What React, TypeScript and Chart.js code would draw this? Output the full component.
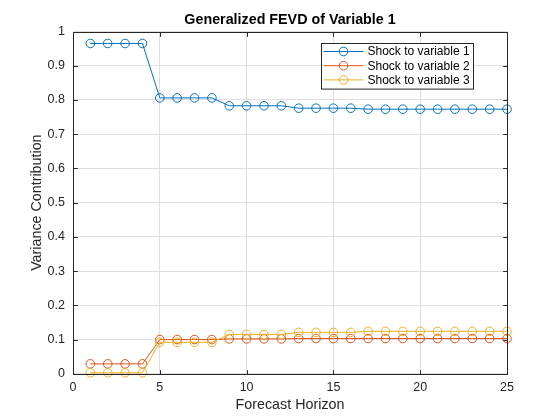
import React, { useEffect, useRef } from "react";
import { Chart, registerables } from "chart.js";

Chart.register(...registerables);

const horizons = [1, 2, 3, 4, 5, 6, 7, 8, 9, 10, 11, 12, 13, 14, 15, 16, 17, 18, 19, 20, 21, 22, 23, 24, 25];
const shockVar1 = [0.965, 0.965, 0.965, 0.965, 0.806, 0.806, 0.806, 0.806, 0.783, 0.783, 0.783, 0.783, 0.776, 0.776, 0.776, 0.776, 0.773, 0.773, 0.773, 0.773, 0.773, 0.773, 0.773, 0.773, 0.773];
const shockVar2 = [0.029, 0.029, 0.029, 0.029, 0.1, 0.1, 0.1, 0.1, 0.102, 0.102, 0.102, 0.102, 0.103, 0.103, 0.103, 0.103, 0.103, 0.103, 0.103, 0.103, 0.103, 0.103, 0.103, 0.103, 0.103];
const shockVar3 = [0.003, 0.003, 0.003, 0.003, 0.092, 0.092, 0.092, 0.092, 0.115, 0.115, 0.115, 0.115, 0.121, 0.121, 0.121, 0.121, 0.124, 0.124, 0.124, 0.124, 0.124, 0.124, 0.124, 0.124, 0.124];
const seriesLabels = ["Shock to variable 1", "Shock to variable 2", "Shock to variable 3"];
const seriesColors = ["#0072BD", "#D95319", "#EDB120"];
const xTicks = [0, 5, 10, 15, 20, 25];
const yTicks = [0, 0.1, 0.2, 0.3, 0.4, 0.5, 0.6, 0.7, 0.8, 0.9, 1];
const titleText = "Generalized FEVD of Variable 1";
const xLabelText = "Forecast Horizon";
const yLabelText = "Variance Contribution";

const FONT = 'Arial, "Liberation Sans", Helvetica, sans-serif';
const AXIS_COLOR = "#262626";

const matlabPlugin = {
  id: "matlabDecor",
  afterDatasetsDraw(chart: any) {
    const { ctx, chartArea: a, scales } = chart;
    ctx.save();
    const L = Math.round(a.left) + 0.5;
    const R = Math.round(a.right) + 0.5;
    const T = Math.round(a.top) + 0.5;
    const B = Math.round(a.bottom) + 0.5;
    const tl = 4.3;
    ctx.strokeStyle = AXIS_COLOR;
    ctx.lineWidth = 1;
    ctx.beginPath();
    ctx.rect(L, T, R - L, B - T);
    ctx.stroke();
    ctx.beginPath();
    xTicks.forEach((v) => {
      const px = Math.round(scales.x.getPixelForValue(v)) + 0.5;
      ctx.moveTo(px, B);
      ctx.lineTo(px, B - tl);
      ctx.moveTo(px, T);
      ctx.lineTo(px, T + tl);
    });
    yTicks.forEach((v) => {
      const py = Math.round(scales.y.getPixelForValue(v)) + 0.5;
      ctx.moveTo(L, py);
      ctx.lineTo(L + tl, py);
      ctx.moveTo(R, py);
      ctx.lineTo(R - tl, py);
    });
    ctx.stroke();

    // title
    ctx.fillStyle = "#000";
    ctx.font = `bold 14.3px ${FONT}`;
    ctx.textAlign = "center";
    ctx.textBaseline = "middle";
    ctx.fillText(titleText, (a.left + a.right) / 2, 20);

    // axis labels
    ctx.fillStyle = AXIS_COLOR;
    ctx.font = `14.3px ${FONT}`;
    ctx.fillText(xLabelText, (a.left + a.right) / 2, a.bottom + 31.5);
    ctx.save();
    ctx.translate(a.left - 36, (a.top + a.bottom) / 2);
    ctx.rotate(-Math.PI / 2);
    ctx.fillText(yLabelText, 0, 0);
    ctx.restore();

    // legend
    ctx.font = `12px ${FONT}`;
    const datasets = chart.data.datasets;
    let textW = 0;
    datasets.forEach((d: any) => {
      textW = Math.max(textW, ctx.measureText(d.label).width);
    });
    const lineLen = 40;
    const rowH = 14.2;
    const boxW = 2 + lineLen + 4 + textW + 4;
    const boxH = rowH * datasets.length + 3;
    const boxRight = Math.round(a.right - 34) + 0.5;
    const boxLeft = Math.round(boxRight - boxW) + 0.5;
    const boxTop = Math.round(a.top + 11.5) + 0.5;
    ctx.fillStyle = "#fff";
    ctx.fillRect(boxLeft, boxTop, boxRight - boxLeft, boxH);
    ctx.strokeStyle = AXIS_COLOR;
    ctx.lineWidth = 1;
    ctx.strokeRect(boxLeft, boxTop, boxRight - boxLeft, boxH);
    datasets.forEach((d: any, i: number) => {
      const cy = boxTop + 8 + i * rowH;
      const x0 = boxLeft + 2;
      ctx.strokeStyle = d.borderColor;
      ctx.lineWidth = 1;
      ctx.beginPath();
      ctx.moveTo(x0, cy);
      ctx.lineTo(x0 + lineLen, cy);
      ctx.stroke();
      ctx.beginPath();
      ctx.arc(x0 + lineLen / 2, cy, 4.3, 0, Math.PI * 2);
      ctx.stroke();
      ctx.fillStyle = "#000";
      ctx.textAlign = "left";
      ctx.textBaseline = "middle";
      ctx.fillText(d.label, x0 + lineLen + 4, cy + 0.5);
    });
    ctx.restore();
  },
};

export default function App() {
  const canvasRef = useRef<HTMLCanvasElement | null>(null);

  useEffect(() => {
    if (!canvasRef.current) return;
    const series = [shockVar1, shockVar2, shockVar3];
    const chart = new Chart(canvasRef.current, {
      type: "line",
      data: {
        datasets: series.map((vals, i) => ({
          label: seriesLabels[i],
          data: horizons.map((h, j) => ({ x: h, y: vals[j] })),
          borderColor: seriesColors[i],
          backgroundColor: "transparent",
          borderWidth: 1,
          pointRadius: 4.3,
          pointHoverRadius: 4.3,
          pointBorderWidth: 1,
          pointBorderColor: seriesColors[i],
          pointBackgroundColor: "transparent",
          tension: 0,
          fill: false,
          clip: false,
          order: series.length - i,
        })),
      },
      options: {
        animation: false,
        responsive: false,
        devicePixelRatio: 1,
        events: [],
        layout: { padding: { top: 31.5, right: 53, left: 0, bottom: 0 } },
        plugins: {
          legend: { display: false },
          title: { display: false },
          tooltip: { enabled: false },
        },
        scales: {
          x: {
            type: "linear",
            min: 0,
            max: 25,
            afterBuildTicks: (s: any) => {
              s.ticks = xTicks.map((v) => ({ value: v }));
            },
            afterFit: (s: any) => {
              s.height = 46.2;
            },
            ticks: {
              autoSkip: false,
              maxRotation: 0,
              padding: 6,
              color: AXIS_COLOR,
              font: { family: FONT, size: 12.5 },
              callback: (v: any) => String(v),
            },
            grid: { color: "#dfdfdf", lineWidth: 1, drawTicks: false },
            border: { display: false },
          },
          y: {
            type: "linear",
            min: 0,
            max: 1,
            afterBuildTicks: (s: any) => {
              s.ticks = yTicks.map((v) => ({ value: v }));
            },
            afterFit: (s: any) => {
              s.width = 73;
            },
            ticks: {
              autoSkip: false,
              padding: 8,
              color: AXIS_COLOR,
              font: { family: FONT, size: 12.5 },
              callback: (v: any) => String(v),
            },
            grid: { color: "#dfdfdf", lineWidth: 1, drawTicks: false },
            border: { display: false },
          },
        },
      },
      plugins: [matlabPlugin],
    });
    return () => chart.destroy();
  }, []);

  return (
    <div style={{ position: "fixed", left: 0, top: 0, width: 560, height: 420, background: "#fff" }}>
      <canvas ref={canvasRef} width={560} height={420} style={{ width: 560, height: 420, display: "block" }} />
    </div>
  );
}
